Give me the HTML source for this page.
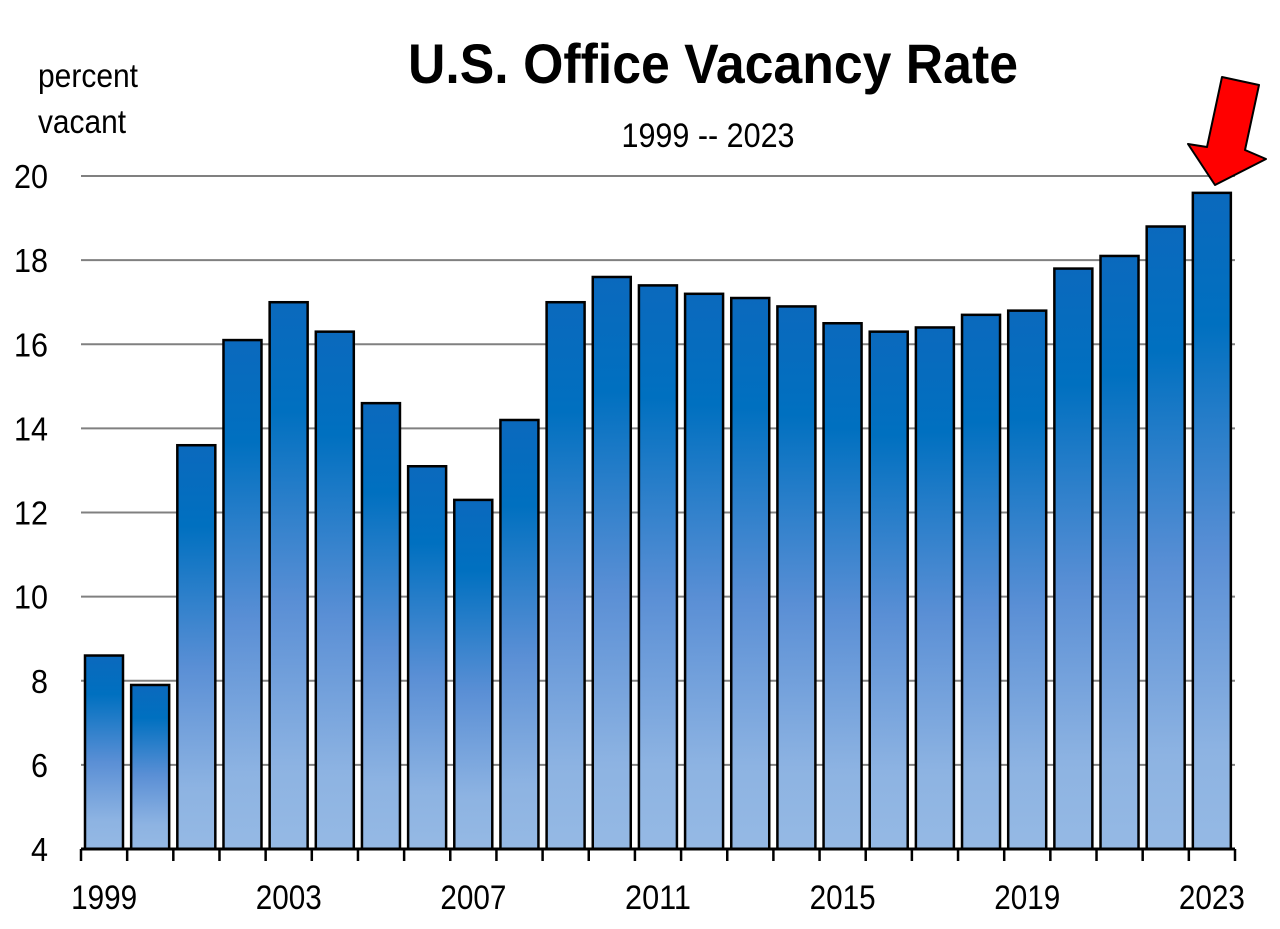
<!DOCTYPE html>
<html><head><meta charset="utf-8"><style>
html,body{margin:0;padding:0;background:#fff;}
svg{display:block;}
text{font-family:"Liberation Sans Narrow","Liberation Sans",sans-serif;fill:#000;}
</style></head><body>
<svg id="c" width="1280" height="929" viewBox="0 0 1280 929" xmlns="http://www.w3.org/2000/svg">
<defs>
<linearGradient id="g" x1="0" y1="0" x2="0" y2="1">
<stop offset="0" stop-color="#0b69bd"/>
<stop offset="0.2" stop-color="#0070c0"/>
<stop offset="0.55" stop-color="#5a8fd5"/>
<stop offset="0.85" stop-color="#8db3e2"/>
<stop offset="1" stop-color="#95b9e4"/>
</linearGradient>
</defs>
<text x="713" y="83" font-size="56" font-weight="bold" text-anchor="middle" textLength="610" lengthAdjust="spacingAndGlyphs">U.S. Office Vacancy Rate</text>
<text x="708" y="147" font-size="34" text-anchor="middle" textLength="173" lengthAdjust="spacingAndGlyphs">1999 -- 2023</text>
<text x="38" y="87" font-size="33" textLength="100" lengthAdjust="spacingAndGlyphs">percent</text>
<text x="38" y="133" font-size="33" textLength="88" lengthAdjust="spacingAndGlyphs">vacant</text>
<g id="grid"></g>
<g id="bars"></g>
<g id="labels"></g>
<polygon points="1222,77 1259,85 1245,150 1266,159 1215,185 1188,144 1207,147" fill="#ff0000" stroke="#000" stroke-width="2" stroke-linejoin="round"/>
</svg>
<script>
var v=[8.6,7.9,13.6,16.1,17.0,16.3,14.6,13.1,12.3,14.2,17.0,17.6,17.4,17.2,17.1,16.9,16.5,16.3,16.4,16.7,16.8,17.8,18.1,18.8,19.6];
var NS="http://www.w3.org/2000/svg";
function el(p,t,a,txt){var e=document.createElementNS(NS,t);for(var k in a)e.setAttribute(k,a[k]);if(txt)e.textContent=txt;document.getElementById(p).appendChild(e);}
function Y(x){return 849-(x-4)*42.06;}
for(var t=4;t<=20;t+=2){var y=Y(t);
 if(t>4)el("grid","line",{x1:81,x2:1235,y1:y,y2:y,stroke:"#808080","stroke-width":2});
 var s=String(t);
 el("labels","text",{x:48,y:y+12,"font-size":33,"text-anchor":"end",textLength:s.length*17,lengthAdjust:"spacingAndGlyphs"},s);}
var s=(1235-81)/25;
for(var i=0;i<25;i++){var x0=81+i*s+4,y=Y(v[i]);
 el("bars","rect",{x:x0,y:y,width:38,height:849-y,fill:"url(#g)",stroke:"#000","stroke-width":2.5});}
el("bars","line",{x1:81,x2:1235,y1:849,y2:849,stroke:"#000","stroke-width":3});
for(var i=0;i<=25;i++){var x=81+i*s;el("bars","line",{x1:x,x2:x,y1:849,y2:861,stroke:"#000","stroke-width":2.5});}
for(var i=0;i<25;i+=4){el("labels","text",{x:81+i*s+s/2,y:909,"font-size":34,"text-anchor":"middle",textLength:66,lengthAdjust:"spacingAndGlyphs"},String(1999+i));}
</script>
</body></html>
